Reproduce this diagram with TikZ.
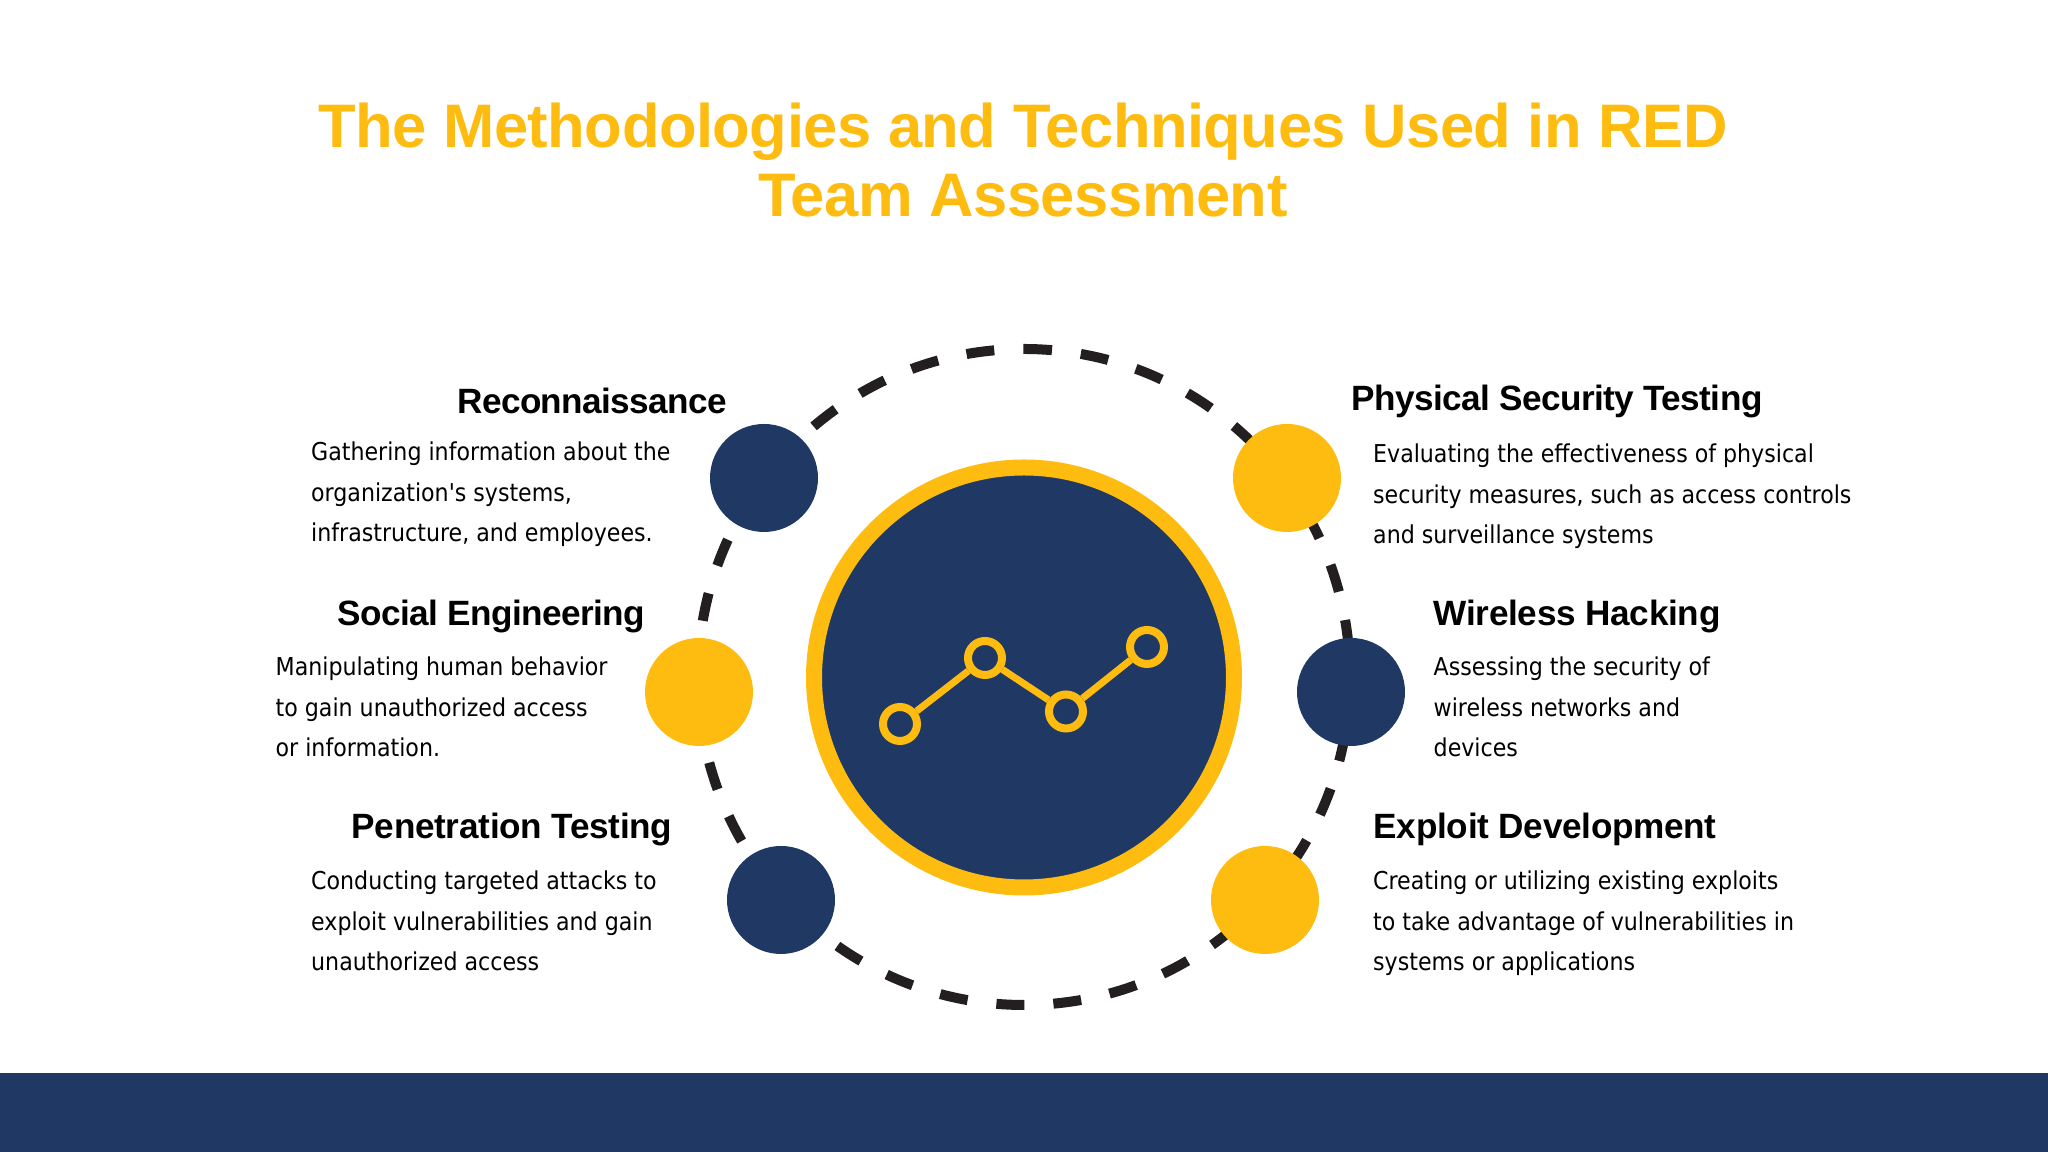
\documentclass[tikz,border=0pt]{standalone}
\usepackage{fontspec}
\setmainfont{Liberation Sans}
\newfontfamily\bodyfont{DejaVu Sans Condensed}
\newfontfamily\headfont[LetterSpace=-0.8]{Liberation Sans}
\newfontfamily\tightfont[LetterSpace=-1.6]{Liberation Sans}
\usetikzlibrary{shapes,positioning,calc}
\definecolor{navy}{HTML}{203864}
\definecolor{gold}{HTML}{FEBC11}
\definecolor{ringblack}{HTML}{231F20}
\tikzstyle{banner} = [rectangle, fill=navy, draw=none, anchor=south west, minimum width=20.7cm, minimum height=0.88cm, inner sep=0pt]
\tikzstyle{titolo} = [text=gold, align=center, font=\headfont\fontsize{17.5}{19.6}\selectfont\bfseries]
\tikzstyle{dashring} = [color=ringblack, line width=0.1cm, dash pattern=on 0.28cm off 0.2906cm]
\tikzstyle{hub} = [circle, fill=navy, draw=gold, line width=0.16cm, minimum size=4.2cm, inner sep=0pt]
\tikzstyle{dotnavy} = [circle, fill=navy, minimum size=1.08cm, inner sep=0pt]
\tikzstyle{dotgold} = [circle, fill=gold, minimum size=1.08cm, inner sep=0pt]
\tikzstyle{chartpt} = [circle, draw=gold, line width=0.08cm, minimum size=0.34cm, inner sep=0pt]
\tikzstyle{chartline} = [gold, line width=0.07cm]
\tikzstyle{testa} = [inner sep=0pt, font=\headfont\fontsize{10}{12}\selectfont\bfseries]
\tikzstyle{testastretta} = [inner sep=0pt, font=\tightfont\fontsize{10}{12}\selectfont\bfseries]
\tikzstyle{corpo} = [inner sep=0pt, anchor=west, align=left, font=\bodyfont\fontsize{7.0}{11.52}\selectfont]

\begin{document}
\begin{tikzpicture}
	\useasboundingbox (0,0) rectangle (20.48,11.52);
	\node (band) at (-0.1,-0.1) [banner] {};
	\node (title) at (10.23,9.92) [titolo] {The Methodologies and Techniques Used in RED\\Team Assessment};

	\draw[dashring] (10.24,8.03) arc[start angle=90, end angle=-270, x radius=3.26cm, y radius=3.28cm];

	\node (d1) at (7.64,6.74) [dotnavy] {};
	\node (d2) at (6.99,4.60) [dotgold] {};
	\node (d3) at (7.81,2.52) [dotnavy] {};
	\node (d4) at (12.87,6.74) [dotgold] {};
	\node (d5) at (13.51,4.60) [dotnavy] {};
	\node (d6) at (12.65,2.52) [dotgold] {};

	\node (centro) at (10.24,4.745) [hub] {};
	\node (p1) at (9.00,4.28) [chartpt] {};
	\node (p2) at (9.85,4.94) [chartpt] {};
	\node (p3) at (10.66,4.405) [chartpt] {};
	\node (p4) at (11.47,5.05) [chartpt] {};
	\draw[chartline] (p1) -- (p2);
	\draw[chartline] (p2) -- (p3);
	\draw[chartline] (p3) -- (p4);

	\node (h1) at (7.28,7.51) [testastretta, anchor=east] {Reconnaissance};
	\node (t1) at (3.105,6.575) [corpo] {Gathering information about the\\organization's systems,\\infrastructure, and employees.};
	\node (h2) at (6.46,5.355) [testastretta, anchor=east] {Social Engineering};
	\node (t2) at (2.75,4.45) [corpo] {Manipulating human behavior\\to gain unauthorized access\\or information.};
	\node (h3) at (6.73,3.225) [testa, anchor=east] {Penetration Testing};
	\node (t3) at (3.105,2.31) [corpo] {Conducting targeted attacks to\\exploit vulnerabilities and gain\\unauthorized access};
	\node (h4) at (13.51,7.505) [testastretta, anchor=west] {Physical Security Testing};
	\node (t4) at (13.725,6.555) [corpo] {Evaluating the effectiveness of physical\\security measures, such as access controls\\and surveillance systems};
	\node (h5) at (14.33,5.355) [testa, anchor=west] {Wireless Hacking};
	\node (t5) at (14.33,4.45) [corpo] {Assessing the security of\\wireless networks and\\devices};
	\node (h6) at (13.73,3.225) [testa, anchor=west] {Exploit Development};
	\node (t6) at (13.725,2.285) [corpo] {Creating or utilizing existing exploits\\to take advantage of vulnerabilities in\\systems or applications};
\end{tikzpicture}
\end{document}
